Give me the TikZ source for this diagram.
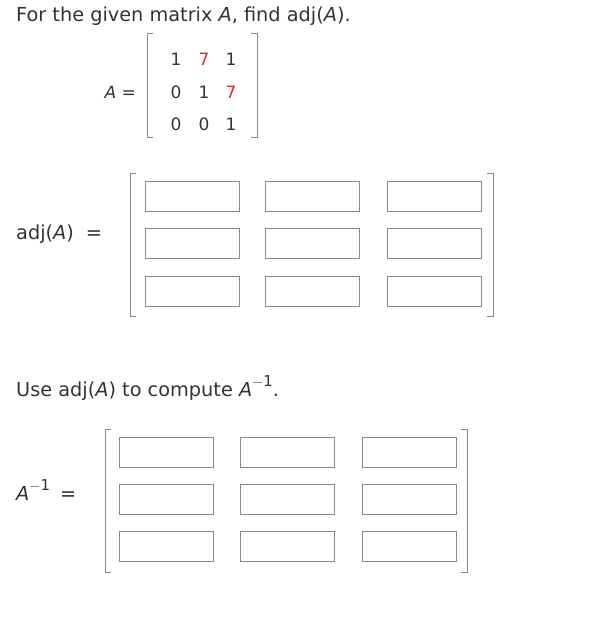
\documentclass[tikz,border=0pt]{standalone}
\usepackage{fontspec}
\setmainfont{DejaVu Sans}
\definecolor{txt}{HTML}{333333}
\definecolor{red7}{HTML}{D0312D}
\definecolor{boxc}{HTML}{8A8A8A}
\newcommand{\supone}{\raisebox{0.55em}{\fontsize{15}{16}\selectfont $-$1}}
\begin{document}
\begin{tikzpicture}[x=1pt,y=-1pt,
  lbl/.style={font=\fontsize{19.3}{21}\selectfont, text=txt, inner sep=0pt},
  ent/.style={font=\fontsize{17}{20}\selectfont, text=txt, inner sep=0pt},
  ansbox/.style={draw=boxc, line width=0.8pt, minimum width=94pt, minimum height=30pt, inner sep=0pt},
  brk/.style={draw=boxc, line width=1pt}]
\useasboundingbox (0,0) rectangle (608,618);
\node[lbl, anchor=west] (q1) at (16,16) {For the given matrix \emph{A}, find adj(\emph{A}).};
% matrix A
\node[ent, anchor=east] (aeq) at (136,92) {\emph{A} =};
\draw[brk] (153,34) -- (147,34) -- (147,137) -- (153,137);
\draw[brk] (251,34) -- (257,34) -- (257,137) -- (251,137);
\node[ent] (a11) at (176,59) {1};
\node[ent, text=red7] (a12) at (204,59) {7};
\node[ent] (a13) at (231,59) {1};
\node[ent] (a21) at (176,92) {0};
\node[ent] (a22) at (204,92) {1};
\node[ent, text=red7] (a23) at (231,92) {7};
\node[ent] (a31) at (176,124) {0};
\node[ent] (a32) at (204,124) {0};
\node[ent] (a33) at (231,124) {1};
% adj
\node[lbl, anchor=west] (adjl) at (16,234) {adj(\emph{A})\hspace{12pt}=};
\draw[brk] (136,173) -- (130,173) -- (130,316) -- (136,316);
\draw[brk] (487,173) -- (493,173) -- (493,316) -- (487,316);
\foreach \r/\y in {1/196,2/243,3/291}{
  \foreach \c/\x in {1/192,2/312,3/434}{
    \node[ansbox] (adj\r\c) at (\x,\y) {};
  }}
% second
\node[lbl, anchor=west] (q2) at (16,388) {Use adj(\emph{A}) to compute \emph{A}\supone.};
\node[lbl, anchor=west] (invl) at (16,490) {\emph{A}\supone\hspace{10pt}=};
\draw[brk] (111,429) -- (105,429) -- (105,572) -- (111,572);
\draw[brk] (461,429) -- (467,429) -- (467,572) -- (461,572);
\foreach \r/\y in {1/452,2/499,3/546}{
  \foreach \c/\x in {1/166,2/287,3/409}{
    \node[ansbox] (inv\r\c) at (\x,\y) {};
  }}
\end{tikzpicture}
\end{document}
